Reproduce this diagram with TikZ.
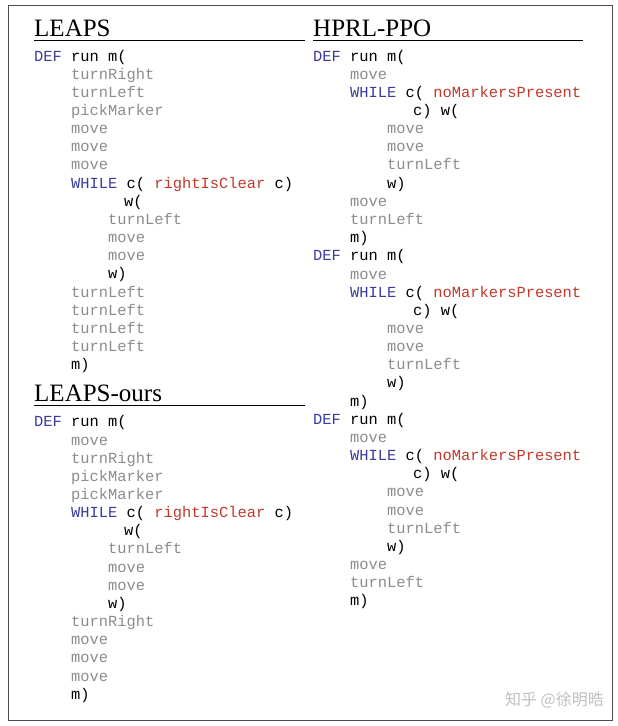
\documentclass[tikz,border=0pt]{standalone}
\usepackage{fontspec}
\setmainfont{Liberation Serif}
\setmonofont{Liberation Mono}
\newfontfamily\cjk{Noto Sans CJK SC}
\definecolor{kwc}{HTML}{3B3B9E}
\definecolor{cnc}{HTML}{C0392B}
\definecolor{acc}{HTML}{8C8C8C}
\newcommand{\K}[1]{\textcolor{kwc}{#1}}
\newcommand{\Cn}[1]{\textcolor{cnc}{#1}}
\newcommand{\A}[1]{\textcolor{acc}{#1}}
\begin{document}
\begin{tikzpicture}[x=1pt,y=-1pt,
  code/.style={anchor=base west,inner sep=0pt,yshift=-5pt,font=\ttfamily\fontsize{15.4}{15.4}\selectfont},
  ttl/.style={anchor=base west,inner sep=0pt,font=\fontsize{25}{25}\selectfont}]
\useasboundingbox (0,0) rectangle (618,726);
\draw[draw=black!70,line width=0.8pt] (8,5) rectangle (612,720);
% titles
\node[ttl] (t1) at (34,36) {LEAPS};
\draw (34,40) -- (305,40);
\node[ttl] (t2) at (34,401) {LEAPS-ours};
\draw (34,405) -- (305,405);
\node[ttl] (t3) at (313,36) {HPRL-PPO};
\draw (313,40) -- (583,40);
% LEAPS
\foreach \x/\y/\t [count=\i] in {
 34/56/{\K{DEF} run m(}, 71/74/{\A{turnRight}}, 71/92/{\A{turnLeft}}, 71/110/{\A{pickMarker}},
 71/128/{\A{move}}, 71/146/{\A{move}}, 71/164/{\A{move}},
 71/183/{\K{WHILE} c( \Cn{rightIsClear} c)}, 124/201/{w(},
 108/219/{\A{turnLeft}}, 108/237/{\A{move}}, 108/255/{\A{move}}, 108/273/{w)},
 71/292/{\A{turnLeft}}, 71/310/{\A{turnLeft}}, 71/328/{\A{turnLeft}}, 71/346/{\A{turnLeft}}, 71/364/{m)},
 34/421/{\K{DEF} run m(}, 71/440/{\A{move}}, 71/458/{\A{turnRight}}, 71/476/{\A{pickMarker}}, 71/494/{\A{pickMarker}},
 71/512/{\K{WHILE} c( \Cn{rightIsClear} c)}, 124/530/{w(},
 108/548/{\A{turnLeft}}, 108/567/{\A{move}}, 108/585/{\A{move}}, 108/603/{w)},
 71/621/{\A{turnRight}}, 71/639/{\A{move}}, 71/657/{\A{move}}, 71/676/{\A{move}}, 71/694/{m)}}
 \node[code] (a\i) at (\x,\y) {\t};
% HPRL-PPO
\foreach \x/\y/\t [count=\i] in {
 313/56/{\K{DEF} run m(},
 350/74/{\A{move}}, 350/92/{\K{WHILE} c( \Cn{noMarkersPresent}}, 413/110/{c) w(},
 387/128/{\A{move}}, 387/146/{\A{move}}, 387/164/{\A{turnLeft}}, 387/183/{w)},
 350/201/{\A{move}}, 350/219/{\A{turnLeft}}, 350/237/{m)},
 313/255/{\K{DEF} run m(},
 350/274/{\A{move}}, 350/292/{\K{WHILE} c( \Cn{noMarkersPresent}}, 413/310/{c) w(},
 387/328/{\A{move}}, 387/346/{\A{move}}, 387/364/{\A{turnLeft}}, 387/382/{w)}, 350/401/{m)},
 313/419/{\K{DEF} run m(},
 350/437/{\A{move}}, 350/455/{\K{WHILE} c( \Cn{noMarkersPresent}}, 413/473/{c) w(},
 387/491/{\A{move}}, 387/510/{\A{move}}, 387/528/{\A{turnLeft}}, 387/546/{w)},
 350/564/{\A{move}}, 350/582/{\A{turnLeft}}, 350/600/{m)}}
 \node[code] (b\i) at (\x,\y) {\t};
\node[anchor=east,inner sep=0pt,text=black!25,font=\cjk\fontsize{16}{16}\selectfont] (wm) at (604,700) {知乎 @徐明晧};
\end{tikzpicture}
\end{document}
